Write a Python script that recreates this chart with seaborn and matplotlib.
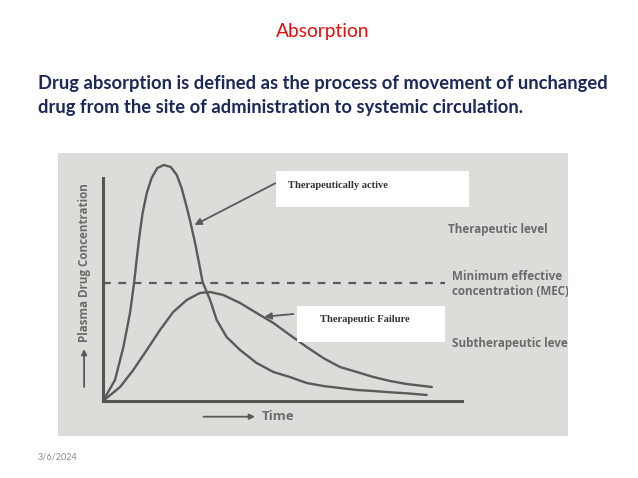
import matplotlib
matplotlib.use("Agg")
import matplotlib.pyplot as plt
import seaborn as sns
import pandas as pd
from matplotlib.patches import Rectangle

# ---------------- data ----------------
active_t = [0, 0.4, 0.68, 0.9, 1.04, 1.12, 1.21, 1.32, 1.46, 1.62, 1.81, 2.03, 2.26,
            2.46, 2.62, 2.79, 2.92, 3.07, 3.2, 3.32, 3.57, 3.79, 4.12, 4.57, 5.12,
            5.68, 6.23, 6.79, 7.34, 7.9, 8.46, 9.01, 9.57, 10.12, 10.79]
active_c = [0, 2.1, 5.4, 8.8, 11.9, 14.1, 16.4, 18.8, 20.8, 22.3, 23.3, 23.6, 23.4,
            22.6, 21.3, 19.4, 17.8, 15.8, 13.8, 11.9, 10.1, 8.1, 6.4, 5.1, 3.8,
            2.9, 2.4, 1.8, 1.5, 1.3, 1.1, 1.0, 0.87, 0.77, 0.6]
failure_t = [0, 0.57, 1.01, 1.46, 1.9, 2.34, 2.79, 3.23, 3.57, 4.01, 4.57, 5.12,
             5.68, 6.23, 6.79, 7.34, 7.9, 8.46, 9.01, 9.57, 10.12, 10.96]
failure_c = [0, 1.4, 3.1, 5.1, 7.1, 8.9, 10.1, 10.8, 10.9, 10.6, 9.8, 8.8,
             7.8, 6.6, 5.4, 4.3, 3.4, 2.9, 2.4, 2.0, 1.7, 1.4]
mec_level = 11.83
series_names = ["Therapeutically active", "Therapeutic Failure"]
right_labels = ["Therapeutic level", "Minimum effective\nconcentration (MEC)",
                "Subtherapeutic level"]
title_text = "Absorption"
body_text = ("Drug absorption is defined as the process of movement of unchanged\n"
             "drug from the site of administration to systemic circulation.")
date_text = "3/6/2024"

df = pd.concat([
    pd.DataFrame({"Time": active_t, "Conc": active_c, "Profile": series_names[0]}),
    pd.DataFrame({"Time": failure_t, "Conc": failure_c, "Profile": series_names[1]}),
])

# ---------------- figure ----------------
sns.set_theme(style="white")
plt.rcParams["font.family"] = ["Lato", "DejaVu Sans"]

fig = plt.figure(figsize=(6.38, 4.78), dpi=100)
fig.patch.set_facecolor("white")

# slide texts
fig.text(323 / 638, 1 - 32 / 478, title_text, color="#e01010", fontsize=13.8,
         ha="center", va="center", family=["Lato", "DejaVu Sans"])
fig.text(38 / 638, 1 - 95 / 478, body_text, color="#1c2858", fontsize=13.2,
         fontweight="bold", ha="left", va="center", linespacing=1.5,
         family=["Lato", "DejaVu Sans"])
fig.text(38 / 638, 1 - 457 / 478, date_text, color="#8a8a8a", fontsize=6.5,
         ha="left", va="center")

# chart image area
ax = fig.add_axes([58 / 638, (478 - 436) / 478, 510 / 638, 283 / 478])
ax.set_facecolor("#dddcd8")
line_col = "#5a5a5a"
sns.lineplot(data=df, x="Time", y="Conc", hue="Profile", sort=False,
             palette=[line_col, line_col], linewidth=1.7, legend=False, ax=ax,
             estimator=None)
for ln in ax.get_lines():
    ln.set_solid_joinstyle("round")
ax.hlines(mec_level, 0, 11.4, colors=line_col, linewidth=1.6,
          linestyles=(0, (3.5, 3.4)))

ax.set_xlim(-1.5, 15.5)
ax.set_ylim(-3.5, 24.8)

for s in ["top", "right"]:
    ax.spines[s].set_visible(False)
ax.spines["left"].set_position(("data", 0))
ax.spines["bottom"].set_position(("data", 0))
ax.spines["left"].set_bounds(0, 22.33)
ax.spines["bottom"].set_bounds(0, 11.96)
for s in ["left", "bottom"]:
    ax.spines[s].set_color("#555555")
    ax.spines[s].set_linewidth(2.2)
ax.set_xticks([])
ax.set_yticks([])
ax.set_xlabel("")
ax.set_ylabel("")

# white callout boxes
ax.add_patch(Rectangle((5.76, 19.37), 6.44, 3.66, facecolor="white",
                       edgecolor="none", zorder=3))
ax.add_patch(Rectangle((6.48, 5.87), 4.92, 3.63, facecolor="white",
                       edgecolor="none", zorder=3))
serif = ["Liberation Serif", "DejaVu Serif"]
ax.text(6.15, 21.6, series_names[0], family=serif, fontweight="bold",
        fontsize=7.6, color="#333333", va="center", ha="left", zorder=4)
ax.text(7.24, 8.1, series_names[1], family=serif, fontweight="bold",
        fontsize=7.6, color="#333333", va="center", ha="left", zorder=4)

# arrows
arrow_kw = dict(arrowstyle="-|>", color=line_col, lw=1.3, mutation_scale=10,
                shrinkA=0, shrinkB=0)
ax.annotate("", xy=(3.05, 17.6), xytext=(5.74, 21.77), arrowprops=arrow_kw)
ax.annotate("", xy=(5.38, 8.43), xytext=(6.35, 8.7), arrowprops=arrow_kw)

# right side labels
lab = dict(family=["Open Sans", "DejaVu Sans"], fontweight="bold", fontsize=8.4,
           color="#6b6b6b", ha="left", va="center", clip_on=True)
ax.text(11.49, 17.2, right_labels[0], **lab)
ax.text(11.63, 11.68, right_labels[1], linespacing=1.15, **lab)
ax.text(11.63, 5.77, right_labels[2], **lab)

# axis titles with arrows
ax.text(-0.62, 13.8, "Plasma Drug Concentration", rotation=90, **{**lab, "ha": "center"})
ax.annotate("", xy=(-0.63, 5.2), xytext=(-0.63, 1.4),
            arrowprops=dict(arrowstyle="-|>", color=line_col, lw=1.3,
                            mutation_scale=8, shrinkA=0, shrinkB=0))
ax.text(5.83, -1.57, "Time", **{**lab, "ha": "center", "fontsize": 9.5})
ax.annotate("", xy=(5.07, -1.57), xytext=(3.35, -1.57),
            arrowprops=dict(arrowstyle="-|>", color=line_col, lw=1.3,
                            mutation_scale=8, shrinkA=0, shrinkB=0))

fig.savefig("out.png", dpi=100, facecolor="white")
